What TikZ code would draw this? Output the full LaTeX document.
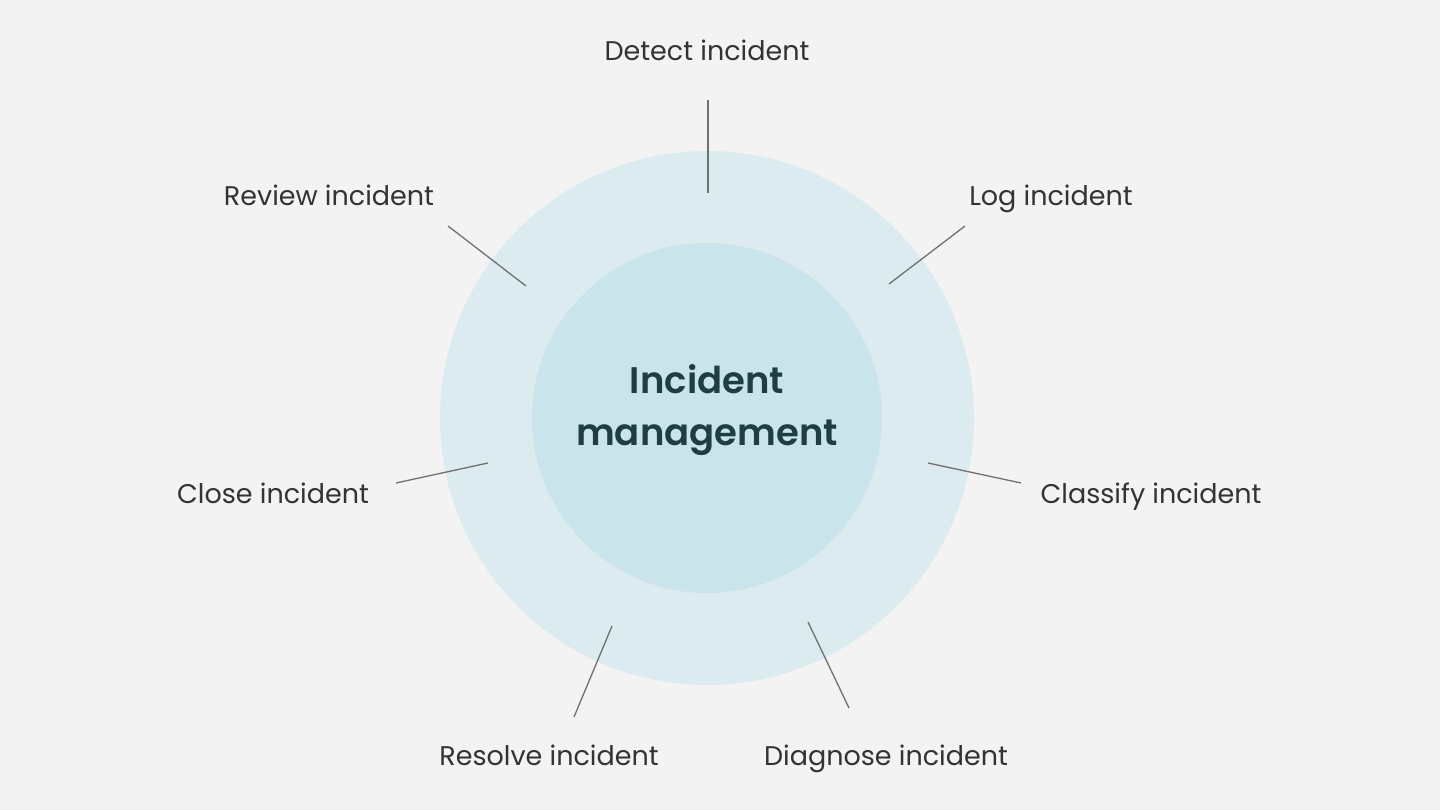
\documentclass[tikz,border=0pt]{standalone}
\usepackage{fontspec}
\setmainfont{Poppins}
\newfontfamily\titlefont{Poppins SemiBold}
\definecolor{bgcol}{HTML}{F3F3F3}
\definecolor{outercol}{HTML}{DCEBEF}
\definecolor{innercol}{HTML}{C9E4EA}
\definecolor{titlecol}{HTML}{1F3D45}
\definecolor{labelcol}{HTML}{333333}
\definecolor{spokecol}{HTML}{707070}
\tikzset{
  steplabel/.style={anchor=base,text=labelcol,font=\fontsize{27}{32}\selectfont},
  spoke/.style={draw=spokecol,line width=1.3pt}
}
\begin{document}
\begin{tikzpicture}[x=1pt,y=-1pt]
  \fill[bgcol] (0,0) rectangle (1440,810);
  \useasboundingbox (0,0) rectangle (1440,810);
  \fill[outercol] (707,418) circle (267);
  \fill[innercol] (707,418) circle (175);
  \node[text=titlecol,font=\titlefont\fontsize{37}{52}\selectfont,align=center] (title) at (707,410) {Incident\\management};
  \node[steplabel] (detect) at (707,61) {Detect incident};
  \node[steplabel] (log) at (1051,206) {Log incident};
  \node[steplabel] (classify) at (1151,503) {Classify incident};
  \node[steplabel] (diagnose) at (886,765) {Diagnose incident};
  \node[steplabel] (resolve) at (549,765) {Resolve incident};
  \node[steplabel] (close) at (273,503) {Close incident};
  \node[steplabel] (review) at (329,206) {Review incident};
  % spoke ends
  \coordinate (detectA) at (708,100);
  \coordinate (detectB) at (708,193);
  \coordinate (logA) at (965,226);
  \coordinate (logB) at (889,284);
  \coordinate (classifyA) at (1021,483);
  \coordinate (classifyB) at (928,463);
  \coordinate (diagnoseA) at (849,708);
  \coordinate (diagnoseB) at (808,622);
  \coordinate (resolveA) at (574,717);
  \coordinate (resolveB) at (612,626);
  \coordinate (closeA) at (396,483);
  \coordinate (closeB) at (488,463);
  \coordinate (reviewA) at (448,226);
  \coordinate (reviewB) at (526,286);
  \foreach \s in {detect,log,classify,diagnose,resolve,close,review}
    \draw[spoke] (\s A) -- (\s B);
\end{tikzpicture}
\end{document}
